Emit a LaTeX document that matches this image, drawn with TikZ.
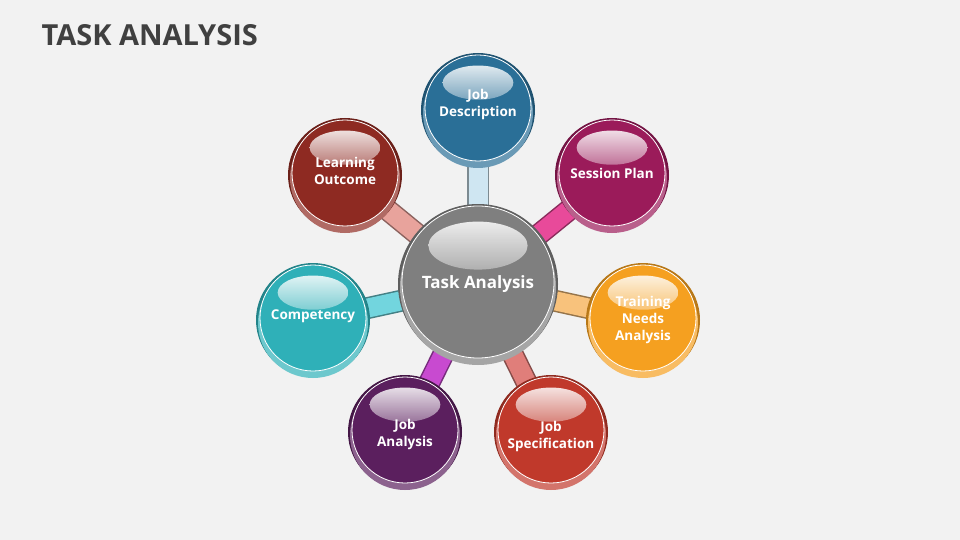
\documentclass[tikz,border=0pt]{standalone}
\usepackage{fontspec}
\setmainfont{Open Sans}
\begin{document}
\begin{tikzpicture}[x=1pt,y=-1pt,
  lbl/.style={text=white,font=\fontsize{13.5}{17}\selectfont\bfseries,align=center},
  conn/.style={line width=22pt}]
\fill[black!5] (0,0) rectangle (960,540);
\useasboundingbox (0,0) rectangle (960,540);
\node[anchor=west,text=black!75,font=\fontsize{29}{32}\selectfont\bfseries] (title) at (38,35) {TASK ANALYSIS};
\coordinate (c) at (478,284);
\coordinate (jd) at (478,110);
\coordinate (sp) at (612,175);
\coordinate (tn) at (643,320);
\coordinate (js) at (551,432);
\coordinate (ja) at (405,432);
\coordinate (co) at (313,320);
\coordinate (lo) at (345,175);
\newcommand\conn[2]{\draw[conn,draw=#2!60!black] (c) -- (#1);\draw[line width=19pt,#2] (c) -- (#1);}
\definecolor{cjd}{HTML}{2A6F97}\definecolor{ljd}{HTML}{CFE6F2}
\definecolor{csp}{HTML}{9B1B5A}\definecolor{lsp}{HTML}{E84A9A}
\definecolor{ctn}{HTML}{F5A020}\definecolor{ltn}{HTML}{F8C27C}
\definecolor{cjs}{HTML}{C0392B}\definecolor{ljs}{HTML}{E07E7A}
\definecolor{cja}{HTML}{5B1F5E}\definecolor{lja}{HTML}{C84AD0}
\definecolor{cco}{HTML}{2FB0B8}\definecolor{lco}{HTML}{72D5DE}
\definecolor{clo}{HTML}{8E2A22}\definecolor{llo}{HTML}{E8A39C}
\definecolor{cc}{HTML}{7F7F7F}
\conn{jd}{ljd}\conn{sp}{lsp}\conn{tn}{ltn}\conn{js}{ljs}\conn{ja}{lja}\conn{co}{lco}\conn{lo}{llo}
\newcommand\ball[5]{% pos, radius, color, text, textshift
  \fill[#3!75!black] (#1) circle (#2);
  \fill[#3!70!white] ([yshift=-3]#1) circle (#2-2);
  \fill[#3] ([yshift=2]#1) circle (#2-4);
  \draw[white,line width=0.8] ([yshift=2]#1) circle (#2-4);
  \shade[top color=white,bottom color=#3!55!white,opacity=0.85] ([yshift=#2*0.48]#1) ellipse ({#2*0.62} and {#2*0.3});
  \node[lbl] at ([yshift=#5]#1) {#4};}
\ball{jd}{57}{cjd}{Job\\Description}{6}
\ball{sp}{57}{csp}{Session Plan}{2}
\ball{tn}{57}{ctn}{Training\\Needs\\Analysis}{0}
\ball{js}{57}{cjs}{Job\\Specification}{-4}
\ball{ja}{57}{cja}{Job\\Analysis}{-2}
\ball{co}{57}{cco}{Competency}{4}
\ball{lo}{57}{clo}{Learning\\Outcome}{4}
\ball{c}{80}{cc}{\fontsize{17}{20}\selectfont Task Analysis}{0}
\end{tikzpicture}
\end{document}
